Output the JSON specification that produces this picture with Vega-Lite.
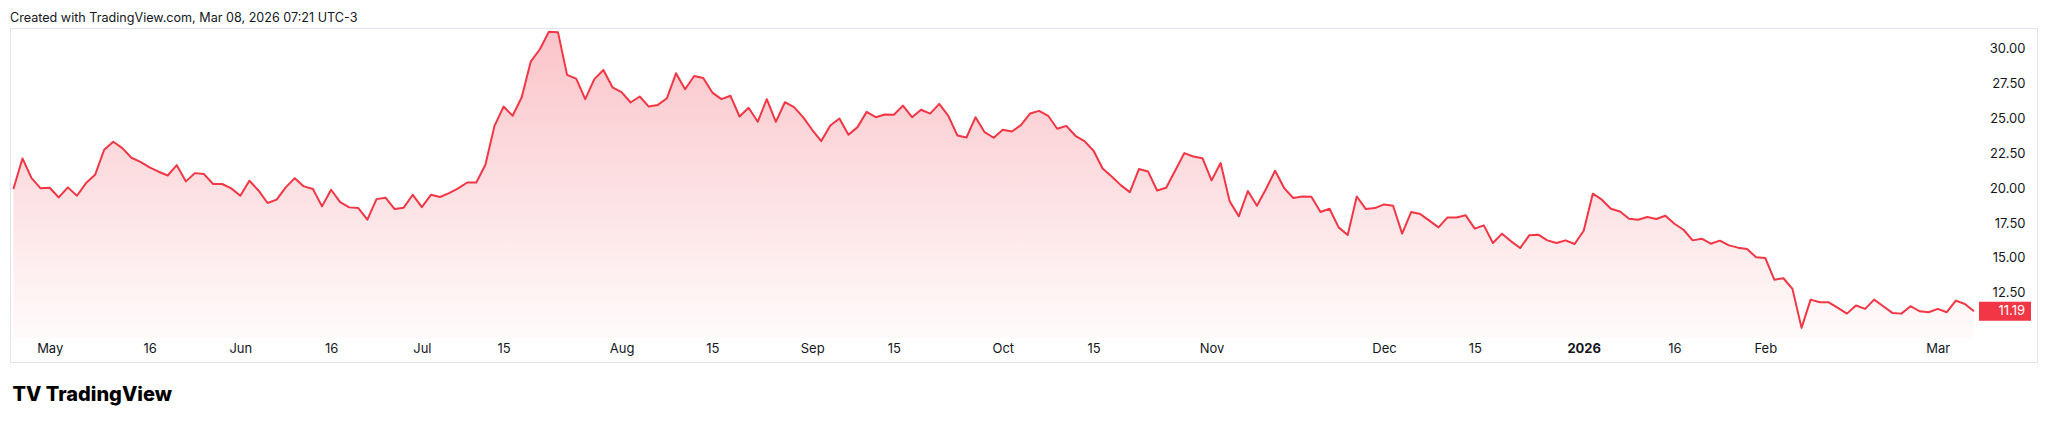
{
  "$schema": "https://vega.github.io/schema/vega-lite/v6.json",
  "width": 2027,
  "height": 334,
  "autosize": {"type": "none"},
  "padding": {"left": 10, "top": 28, "right": 11, "bottom": 63},
  "background": "#ffffff",
  "title": {
    "text": "Created with TradingView.com, Mar 08, 2026 07:21 UTC-3",
    "anchor": "start",
    "frame": "group",
    "font": "Inter",
    "fontSize": 12.6,
    "fontWeight": "normal",
    "color": "#131722",
    "baseline": "alphabetic",
    "offset": 8,
    "dy": 15
  },
  "config": {
    "view": {"stroke": "#e0e3eb", "strokeWidth": 1},
    "font": "Inter"
  },
  "data": {
    "values": [
      {"date": "2025-04-25", "close": 19.93},
      {"date": "2025-04-28", "close": 22.12},
      {"date": "2025-04-29", "close": 20.71},
      {"date": "2025-04-30", "close": 19.98},
      {"date": "2025-05-01", "close": 20.02},
      {"date": "2025-05-02", "close": 19.33},
      {"date": "2025-05-05", "close": 20.05},
      {"date": "2025-05-06", "close": 19.45},
      {"date": "2025-05-07", "close": 20.36},
      {"date": "2025-05-08", "close": 20.95},
      {"date": "2025-05-09", "close": 22.74},
      {"date": "2025-05-12", "close": 23.31},
      {"date": "2025-05-13", "close": 22.86},
      {"date": "2025-05-14", "close": 22.17},
      {"date": "2025-05-15", "close": 21.88},
      {"date": "2025-05-16", "close": 21.48},
      {"date": "2025-05-19", "close": 21.17},
      {"date": "2025-05-20", "close": 20.90},
      {"date": "2025-05-21", "close": 21.64},
      {"date": "2025-05-22", "close": 20.48},
      {"date": "2025-05-23", "close": 21.07},
      {"date": "2025-05-27", "close": 21.00},
      {"date": "2025-05-28", "close": 20.29},
      {"date": "2025-05-29", "close": 20.29},
      {"date": "2025-05-30", "close": 19.98},
      {"date": "2025-06-02", "close": 19.45},
      {"date": "2025-06-03", "close": 20.52},
      {"date": "2025-06-04", "close": 19.83},
      {"date": "2025-06-05", "close": 18.93},
      {"date": "2025-06-06", "close": 19.17},
      {"date": "2025-06-09", "close": 20.05},
      {"date": "2025-06-10", "close": 20.71},
      {"date": "2025-06-11", "close": 20.12},
      {"date": "2025-06-12", "close": 19.93},
      {"date": "2025-06-13", "close": 18.69},
      {"date": "2025-06-16", "close": 19.88},
      {"date": "2025-06-17", "close": 19.00},
      {"date": "2025-06-18", "close": 18.62},
      {"date": "2025-06-20", "close": 18.57},
      {"date": "2025-06-23", "close": 17.74},
      {"date": "2025-06-24", "close": 19.21},
      {"date": "2025-06-25", "close": 19.31},
      {"date": "2025-06-26", "close": 18.50},
      {"date": "2025-06-27", "close": 18.60},
      {"date": "2025-06-30", "close": 19.52},
      {"date": "2025-07-01", "close": 18.64},
      {"date": "2025-07-02", "close": 19.52},
      {"date": "2025-07-03", "close": 19.36},
      {"date": "2025-07-07", "close": 19.64},
      {"date": "2025-07-08", "close": 19.98},
      {"date": "2025-07-09", "close": 20.40},
      {"date": "2025-07-10", "close": 20.40},
      {"date": "2025-07-11", "close": 21.67},
      {"date": "2025-07-14", "close": 24.45},
      {"date": "2025-07-15", "close": 25.83},
      {"date": "2025-07-16", "close": 25.17},
      {"date": "2025-07-17", "close": 26.50},
      {"date": "2025-07-18", "close": 29.05},
      {"date": "2025-07-21", "close": 29.93},
      {"date": "2025-07-22", "close": 31.19},
      {"date": "2025-07-23", "close": 31.14},
      {"date": "2025-07-24", "close": 28.10},
      {"date": "2025-07-25", "close": 27.83},
      {"date": "2025-07-28", "close": 26.36},
      {"date": "2025-07-29", "close": 27.79},
      {"date": "2025-07-30", "close": 28.45},
      {"date": "2025-07-31", "close": 27.21},
      {"date": "2025-08-01", "close": 26.86},
      {"date": "2025-08-04", "close": 26.12},
      {"date": "2025-08-05", "close": 26.55},
      {"date": "2025-08-06", "close": 25.83},
      {"date": "2025-08-07", "close": 25.95},
      {"date": "2025-08-08", "close": 26.43},
      {"date": "2025-08-11", "close": 28.21},
      {"date": "2025-08-12", "close": 27.07},
      {"date": "2025-08-13", "close": 28.02},
      {"date": "2025-08-14", "close": 27.88},
      {"date": "2025-08-15", "close": 26.83},
      {"date": "2025-08-18", "close": 26.36},
      {"date": "2025-08-19", "close": 26.60},
      {"date": "2025-08-20", "close": 25.12},
      {"date": "2025-08-21", "close": 25.74},
      {"date": "2025-08-22", "close": 24.74},
      {"date": "2025-08-25", "close": 26.36},
      {"date": "2025-08-26", "close": 24.74},
      {"date": "2025-08-27", "close": 26.14},
      {"date": "2025-08-28", "close": 25.79},
      {"date": "2025-08-29", "close": 25.07},
      {"date": "2025-09-02", "close": 24.17},
      {"date": "2025-09-03", "close": 23.36},
      {"date": "2025-09-04", "close": 24.48},
      {"date": "2025-09-05", "close": 24.98},
      {"date": "2025-09-08", "close": 23.81},
      {"date": "2025-09-09", "close": 24.36},
      {"date": "2025-09-10", "close": 25.45},
      {"date": "2025-09-11", "close": 25.07},
      {"date": "2025-09-12", "close": 25.26},
      {"date": "2025-09-15", "close": 25.24},
      {"date": "2025-09-16", "close": 25.90},
      {"date": "2025-09-17", "close": 25.07},
      {"date": "2025-09-18", "close": 25.60},
      {"date": "2025-09-19", "close": 25.33},
      {"date": "2025-09-22", "close": 26.02},
      {"date": "2025-09-23", "close": 25.17},
      {"date": "2025-09-24", "close": 23.76},
      {"date": "2025-09-25", "close": 23.62},
      {"date": "2025-09-26", "close": 25.07},
      {"date": "2025-09-29", "close": 24.00},
      {"date": "2025-09-30", "close": 23.60},
      {"date": "2025-10-01", "close": 24.17},
      {"date": "2025-10-02", "close": 24.05},
      {"date": "2025-10-03", "close": 24.50},
      {"date": "2025-10-06", "close": 25.33},
      {"date": "2025-10-07", "close": 25.52},
      {"date": "2025-10-08", "close": 25.17},
      {"date": "2025-10-09", "close": 24.24},
      {"date": "2025-10-10", "close": 24.45},
      {"date": "2025-10-13", "close": 23.74},
      {"date": "2025-10-14", "close": 23.36},
      {"date": "2025-10-15", "close": 22.67},
      {"date": "2025-10-16", "close": 21.40},
      {"date": "2025-10-17", "close": 20.83},
      {"date": "2025-10-20", "close": 20.21},
      {"date": "2025-10-21", "close": 19.71},
      {"date": "2025-10-22", "close": 21.36},
      {"date": "2025-10-23", "close": 21.19},
      {"date": "2025-10-24", "close": 19.83},
      {"date": "2025-10-27", "close": 20.02},
      {"date": "2025-10-28", "close": 21.26},
      {"date": "2025-10-29", "close": 22.50},
      {"date": "2025-10-30", "close": 22.26},
      {"date": "2025-10-31", "close": 22.14},
      {"date": "2025-11-03", "close": 20.55},
      {"date": "2025-11-04", "close": 21.79},
      {"date": "2025-11-05", "close": 19.05},
      {"date": "2025-11-06", "close": 17.98},
      {"date": "2025-11-07", "close": 19.79},
      {"date": "2025-11-10", "close": 18.74},
      {"date": "2025-11-11", "close": 19.93},
      {"date": "2025-11-12", "close": 21.24},
      {"date": "2025-11-13", "close": 20.00},
      {"date": "2025-11-14", "close": 19.29},
      {"date": "2025-11-17", "close": 19.40},
      {"date": "2025-11-18", "close": 19.38},
      {"date": "2025-11-19", "close": 18.29},
      {"date": "2025-11-20", "close": 18.52},
      {"date": "2025-11-21", "close": 17.19},
      {"date": "2025-11-24", "close": 16.64},
      {"date": "2025-11-25", "close": 19.40},
      {"date": "2025-11-26", "close": 18.50},
      {"date": "2025-11-28", "close": 18.57},
      {"date": "2025-12-01", "close": 18.83},
      {"date": "2025-12-02", "close": 18.74},
      {"date": "2025-12-03", "close": 16.74},
      {"date": "2025-12-04", "close": 18.29},
      {"date": "2025-12-05", "close": 18.14},
      {"date": "2025-12-08", "close": 17.67},
      {"date": "2025-12-09", "close": 17.19},
      {"date": "2025-12-10", "close": 17.90},
      {"date": "2025-12-11", "close": 17.90},
      {"date": "2025-12-12", "close": 18.05},
      {"date": "2025-12-15", "close": 17.10},
      {"date": "2025-12-16", "close": 17.33},
      {"date": "2025-12-17", "close": 16.07},
      {"date": "2025-12-18", "close": 16.74},
      {"date": "2025-12-19", "close": 16.19},
      {"date": "2025-12-22", "close": 15.71},
      {"date": "2025-12-23", "close": 16.62},
      {"date": "2025-12-24", "close": 16.67},
      {"date": "2025-12-26", "close": 16.26},
      {"date": "2025-12-29", "close": 16.07},
      {"date": "2025-12-30", "close": 16.26},
      {"date": "2025-12-31", "close": 16.00},
      {"date": "2026-01-02", "close": 16.95},
      {"date": "2026-01-05", "close": 19.60},
      {"date": "2026-01-06", "close": 19.17},
      {"date": "2026-01-07", "close": 18.52},
      {"date": "2026-01-08", "close": 18.33},
      {"date": "2026-01-09", "close": 17.81},
      {"date": "2026-01-12", "close": 17.74},
      {"date": "2026-01-13", "close": 17.93},
      {"date": "2026-01-14", "close": 17.79},
      {"date": "2026-01-15", "close": 18.02},
      {"date": "2026-01-16", "close": 17.45},
      {"date": "2026-01-20", "close": 17.02},
      {"date": "2026-01-21", "close": 16.26},
      {"date": "2026-01-22", "close": 16.38},
      {"date": "2026-01-23", "close": 16.02},
      {"date": "2026-01-26", "close": 16.24},
      {"date": "2026-01-27", "close": 15.90},
      {"date": "2026-01-28", "close": 15.74},
      {"date": "2026-01-29", "close": 15.64},
      {"date": "2026-01-30", "close": 15.05},
      {"date": "2026-02-02", "close": 15.00},
      {"date": "2026-02-03", "close": 13.45},
      {"date": "2026-02-04", "close": 13.55},
      {"date": "2026-02-05", "close": 12.79},
      {"date": "2026-02-06", "close": 10.00},
      {"date": "2026-02-09", "close": 12.02},
      {"date": "2026-02-10", "close": 11.83},
      {"date": "2026-02-11", "close": 11.83},
      {"date": "2026-02-12", "close": 11.43},
      {"date": "2026-02-13", "close": 11.02},
      {"date": "2026-02-17", "close": 11.60},
      {"date": "2026-02-18", "close": 11.36},
      {"date": "2026-02-19", "close": 12.02},
      {"date": "2026-02-20", "close": 11.55},
      {"date": "2026-02-23", "close": 11.07},
      {"date": "2026-02-24", "close": 11.02},
      {"date": "2026-02-25", "close": 11.55},
      {"date": "2026-02-26", "close": 11.19},
      {"date": "2026-02-27", "close": 11.12},
      {"date": "2026-03-02", "close": 11.36},
      {"date": "2026-03-03", "close": 11.12},
      {"date": "2026-03-04", "close": 11.95},
      {"date": "2026-03-05", "close": 11.71},
      {"date": "2026-03-06", "close": 11.19}
    ]
  },
  "encoding": {
    "x": {
      "field": "date",
      "type": "ordinal",
      "scale": {"type": "point", "padding": 0, "range": [3.4, 1964]},
      "axis": {
        "orient": "bottom",
        "offset": -14,
        "domain": false,
        "ticks": false,
        "tickSize": 0,
        "grid": false,
        "labelPadding": 0,
        "labelBaseline": "middle",
        "labelAlign": "center",
        "labelAngle": 0,
        "labelOverlap": false,
        "labelFlush": false,
        "labelFont": "Inter",
        "labelFontSize": 13,
        "labelColor": "#131722",
        "labelFontWeight": {"condition": {"test": "datum.value == '2026-01-02'", "value": "bold"}, "value": "normal"},
        "values": ["2025-05-01", "2025-05-16", "2025-06-02", "2025-06-16", "2025-07-01", "2025-07-15", "2025-08-01", "2025-08-15", "2025-09-02", "2025-09-15", "2025-10-01", "2025-10-15", "2025-11-03", "2025-12-01", "2025-12-15", "2026-01-02", "2026-01-16", "2026-02-02", "2026-03-02"],
        "labelExpr": "datum.value == '2026-01-02' ? '2026' : (toNumber(slice(datum.value, 8, 10)) < 10 ? ['Jan','Feb','Mar','Apr','May','Jun','Jul','Aug','Sep','Oct','Nov','Dec'][toNumber(slice(datum.value, 5, 7)) - 1] : '' + toNumber(slice(datum.value, 8, 10)))",
        "title": "TV TradingView",
        "titleFont": "Inter",
        "titleFontSize": 20,
        "titleFontWeight": 800,
        "titleColor": "#000000",
        "titleAnchor": "start",
        "titleAlign": "left",
        "titleBaseline": "middle",
        "titleX": 2,
        "titleY": 46
      }
    },
    "y": {
      "field": "close",
      "type": "quantitative",
      "scale": {"domain": [7.56, 31.45], "nice": false, "zero": false},
      "axis": {
        "orient": "right",
        "offset": -12,
        "domain": false,
        "ticks": false,
        "tickSize": 0,
        "grid": false,
        "labelPadding": 0,
        "labelAlign": "right",
        "labelBaseline": "middle",
        "labelFont": "Inter",
        "labelFontSize": 13,
        "labelColor": "#131722",
        "values": [12.5, 15, 17.5, 20, 22.5, 25, 27.5, 30],
        "format": ".2f",
        "title": null
      }
    }
  },
  "layer": [
    {
      "mark": {
        "type": "area",
        "interpolate": "linear",
        "color": {
          "gradient": "linear",
          "x1": 0, "y1": 0, "x2": 0, "y2": 1,
          "stops": [
            {"offset": 0, "color": "#fac4c9"},
            {"offset": 1, "color": "#fffbfb"}
          ]
        }
      },
      "encoding": {"y2": {"datum": 9.28}}
    },
    {
      "mark": {"type": "line", "color": "#f23645", "strokeWidth": 2, "interpolate": "linear", "strokeJoin": "round"},
      "encoding": {}
    },
    {
      "transform": [{"filter": "datum.date == '2026-03-06'"}],
      "mark": {"type": "point", "shape": "M5,-9.5H57V9.5H5Z", "size": 4, "filled": true, "color": "#f23645", "opacity": 1, "strokeWidth": 0},
      "encoding": {}
    },
    {
      "transform": [{"filter": "datum.date == '2026-03-06'"}],
      "mark": {"type": "text", "dx": 51, "align": "right", "baseline": "middle", "font": "Inter", "fontSize": 13, "color": "#ffffff"},
      "encoding": {"text": {"field": "close", "type": "quantitative", "format": ".2f"}}
    }
  ]
}
